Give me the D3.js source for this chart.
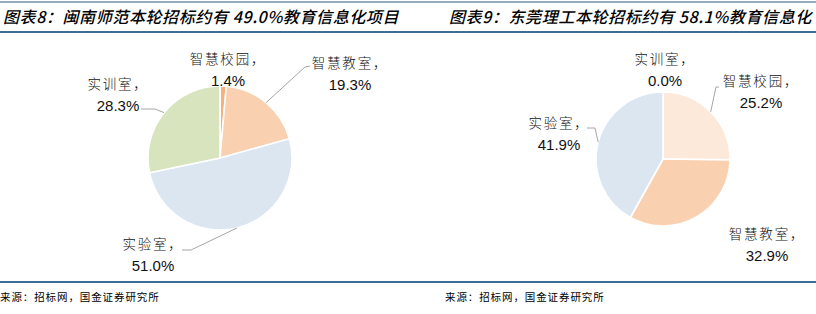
<!DOCTYPE html>
<html>
<head>
<meta charset="utf-8">
<script src="https://cdn.jsdelivr.net/npm/d3@7"></script>
<style>
  body { margin: 0; background: #fff; }
  svg { display: block; }
  .title { font-family: "Noto Sans CJK SC", sans-serif; font-style: italic; font-weight: 500; font-size: 16px; letter-spacing: 0.6px; fill: #000; }
  .src { font-family: "Noto Sans CJK SC", serif; font-size: 10.5px; letter-spacing: 0.9px; fill: #000; }
  .cat { font-family: "Noto Sans CJK SC", sans-serif; font-size: 13.5px; letter-spacing: 1.8px; fill: #111; font-weight: 300; }
  .pct { font-family: "Liberation Sans", Arial, sans-serif; font-size: 15px; fill: #111; }
</style>
</head>
<body>
<div id="chart"></div>
<script>
  var w = 816, h = 314;

  // data
  var leftCats = ["智慧校园", "智慧教室", "实验室", "实训室"];
  var leftVals = [1.4, 19.3, 51.0, 28.3];
  var rightCats = ["实训室", "智慧校园", "智慧教室", "实验室"];
  var rightVals = [0.0, 25.2, 32.9, 41.9];
  var titles = ["图表8：闽南师范本轮招标约有 49.0%教育信息化项目", "图表9：东莞理工本轮招标约有 58.1%教育信息化"];
  var source = "来源：招标网，国金证券研究所";

  var catColor = d3.scaleOrdinal()
    .domain(["智慧校园", "智慧教室", "实验室", "实训室"])
    .range(["#F4B183", "#F9D0B0", "#DCE6F1", "#D7E4BD"]);

  // layout (label block centre x, first line centre y, optional leader tail/elbow)
  var panels = [
    { cats: leftCats, vals: leftVals, cx: 220, cy: 158, r: 72, titleX: 3, srcX: 0,
      colors: null,
      labels: [
        { x: 228, y: 58 },
        { x: 350, y: 62, tail: [310, 66], elbow: [305, 67] },
        { x: 153, y: 243, tail: [182, 250], elbow: [191, 250] },
        { x: 118, y: 83, tail: [141, 109], elbow: [155, 109] }
      ] },
    { cats: rightCats, vals: rightVals, cx: 663, cy: 159, r: 67, titleX: 449, srcX: 445,
      colors: { "智慧校园": "#FDE9D9" },
      labels: [
        { x: 665, y: 58 },
        { x: 761, y: 80, tail: [719, 87], elbow: [716, 87] },
        { x: 767, y: 233 },
        { x: 559, y: 122, tail: [587, 128], elbow: [595, 128] }
      ] }
  ];

  var svg = d3.select("#chart").append("svg")
    .attr("width", w).attr("height", h);

  // rules
  svg.append("line").attr("x1", 0).attr("x2", w).attr("y1", 2).attr("y2", 2)
    .attr("stroke", "#2F5A7E").attr("stroke-width", 1);
  svg.append("line").attr("x1", 0).attr("x2", w).attr("y1", 32).attr("y2", 32)
    .attr("stroke", "#3F6E94").attr("stroke-width", 2);
  svg.append("line").attr("x1", 0).attr("x2", w).attr("y1", 282).attr("y2", 282)
    .attr("stroke", "#3F6E94").attr("stroke-width", 2);

  var pie = d3.pie().sort(null).value(function(d) { return d.v; });

  panels.forEach(function(p, pi) {
    svg.append("text").attr("class", "title").attr("x", p.titleX).attr("y", 23).text(titles[pi]);
    svg.append("text").attr("class", "src").attr("x", p.srcX).attr("y", 301).text(source);

    var data = p.cats.map(function(c, i) { return { c: c, v: p.vals[i], lab: p.labels[i] }; });
    var arcs = pie(data);
    var arc = d3.arc().innerRadius(0).outerRadius(p.r);
    var edge = d3.arc().innerRadius(p.r).outerRadius(p.r);

    var g = svg.append("g").attr("transform", "translate(" + p.cx + "," + p.cy + ")");
    g.selectAll("path").data(arcs.filter(function(a) { return a.data.v > 0; })).enter().append("path")
      .attr("d", arc)
      .attr("fill", function(a) { return (p.colors && p.colors[a.data.c]) || catColor(a.data.c); })
      .attr("stroke", "#fff").attr("stroke-width", 1.6).attr("stroke-linejoin", "round");

    arcs.forEach(function(a) {
      var L = a.data.lab;
      if (L.tail) {
        var e = edge.centroid(a);
        svg.append("polyline")
          .attr("points", [L.tail, L.elbow, [p.cx + e[0], p.cy + e[1]]].map(function(q) { return q.join(","); }).join(" "))
          .attr("fill", "none").attr("stroke", "#A6A6A6").attr("stroke-width", 1);
      }
      svg.append("text").attr("class", "cat").attr("x", L.x).attr("y", L.y)
        .attr("text-anchor", "middle").attr("dominant-baseline", "central")
        .text(a.data.c + "，");
      svg.append("text").attr("class", "pct").attr("x", L.x).attr("y", L.y + 22)
        .attr("text-anchor", "middle").attr("dominant-baseline", "central")
        .text(a.data.v.toFixed(1) + "%");
    });
  });
</script>
</body>
</html>
